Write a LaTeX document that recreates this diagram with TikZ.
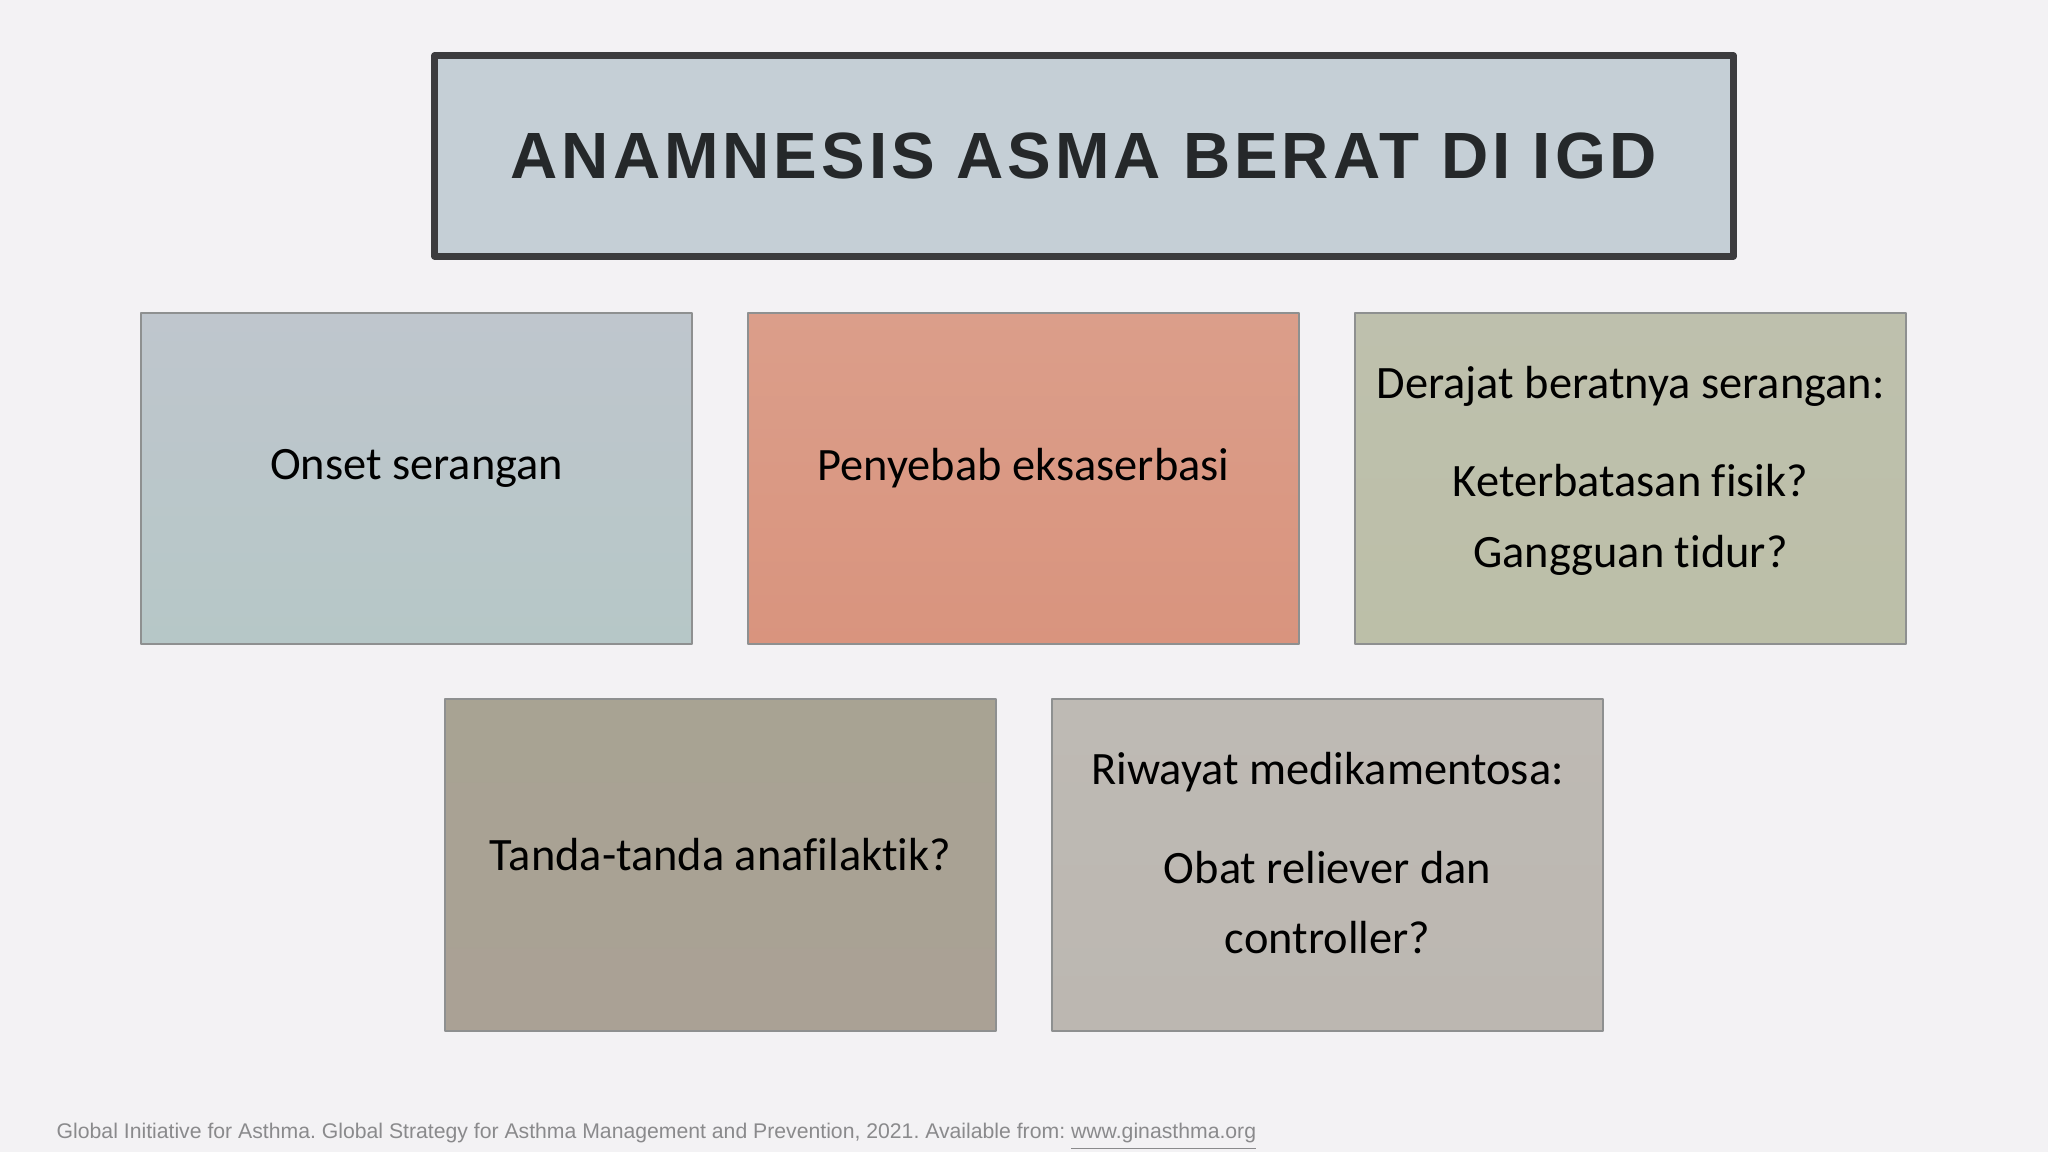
\documentclass[tikz,border=0pt]{standalone}
\usepackage{fontspec}
\setmainfont{Carlito}[Ligatures=CommonOff]
\newfontfamily\titlefont[LetterSpace=6]{Liberation Sans}
\newfontfamily\notefont{Liberation Sans}
\usetikzlibrary{positioning}
\definecolor{bgcol}{HTML}{F3F2F4}
\definecolor{titlefill}{HTML}{C5CFD6}
\definecolor{titleline}{HTML}{3C3C3E}
\definecolor{edgecol}{HTML}{8E9090}
\definecolor{onsettop}{HTML}{BFC6CD}
\definecolor{onsetbot}{HTML}{B6C7C7}
\definecolor{causetop}{HTML}{DB9E8A}
\definecolor{causebot}{HTML}{D9947E}
\definecolor{gradetop}{HTML}{BEC0AD}
\definecolor{gradebot}{HTML}{BCBFA8}
\definecolor{anaftop}{HTML}{A8A393}
\definecolor{anafbot}{HTML}{AAA195}
\definecolor{medtop}{HTML}{BEBAB4}
\definecolor{medbot}{HTML}{BCB7B1}
\definecolor{notecol}{HTML}{8A8A8C}
\tikzset{
  infobox/.style={draw=edgecol, line width=0.6pt, minimum width=5.51cm, minimum height=3.31cm, inner sep=0pt},
  boxtxt/.style={font=\fontsize{13.2}{20}\selectfont, align=center, text=black},
}
\begin{document}
\frenchspacing
\begin{tikzpicture}[x=0.01cm, y=-0.01cm, line join=round]
\fill[bgcol] (0,0) rectangle (2048,1152);
\useasboundingbox (0,0) rectangle (2048,1152);
% title
\node[draw=titleline, fill=titlefill, line width=2pt, minimum width=12.98cm, minimum height=2.0cm] (title) at (1084,156)
  {\titlefont\fontsize{18.6}{20}\selectfont\bfseries\color[HTML]{25282A}ANAMNESIS ASMA BERAT DI IGD};
% boxes
\node[infobox, top color=onsettop, bottom color=onsetbot] (onset) at (416.5,478.5) {};
\node[infobox, top color=causetop, bottom color=causebot] (cause) at (1023.5,478.5) {};
\node[infobox, top color=gradetop, bottom color=gradebot] (grade) at (1630.5,478.5) {};
\node[infobox, top color=anaftop, bottom color=anafbot] (anaf) at (720.5,865) {};
\node[infobox, top color=medtop, bottom color=medbot] (med) at (1327.5,865) {};
\node[boxtxt] (onsettxt) at ([yshift=0.1cm]onset.center) {Onset serangan};
\node[boxtxt] (causetxt) at ([yshift=0.1cm]cause.center) {Penyebab eksaserbasi};
\node[boxtxt] (gradetxt) at ([yshift=0.08cm]grade.center) {Derajat beratnya serangan:\\[8pt]Keterbatasan fisik?\\Gangguan tidur?};
\node[boxtxt] (anaftxt) at ([yshift=0.1cm]anaf.center) {Tanda-tanda anafilaktik?};
\node[boxtxt] (medtxt) at ([yshift=0.12cm]med.center) {Riwayat medikamentosa:\\[8pt]Obat reliever dan\\controller?};
% source
\node[anchor=west, inner sep=0pt, text=notecol, font=\notefont\fontsize{6.03}{7}\selectfont] (note) at (56,1137)
  {Global Initiative for Asthma. Global Strategy for Asthma Management and Prevention, 2021. Available from: \underline{www.ginasthma.org}};
\end{tikzpicture}
\end{document}
